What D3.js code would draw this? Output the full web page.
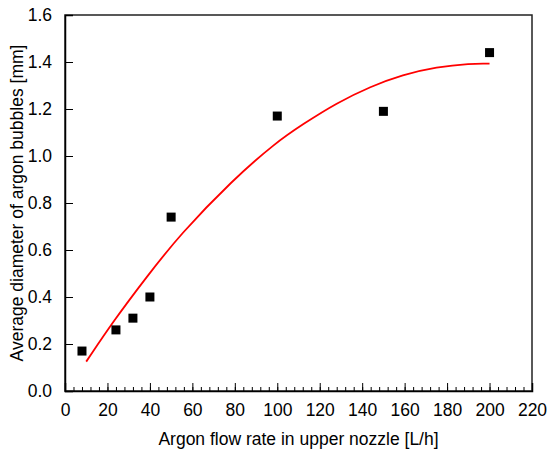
<!DOCTYPE html>
<html lang="en">
<head>
    <meta charset="UTF-8">
    <title>Argon bubble diameter</title>
    <script src="https://d3js.org/d3.v7.min.js"></script>
    <style>
        body {
            margin: 0;
            background: #fff;
            font-family: "Liberation Sans", Arial, sans-serif;
        }
        .tick text {
            font-size: 17.5px;
            fill: #000;
        }
        .axis-title {
            font-size: 17.5px;
            fill: #000;
        }
    </style>
</head>
<body>
    <svg id="chart" width="550" height="455"></svg>

    <script>
        // measured points
        const flowRates = [8, 24, 32, 40, 50, 100, 150, 200];
        const diameters = [0.17, 0.26, 0.31, 0.40, 0.74, 1.17, 1.19, 1.44];

        // red fit curve
        const fitX = [10, 23, 38.5, 54, 79, 99, 112, 128, 144, 159, 175, 191, 200];
        const fitY = [0.125, 0.30, 0.486, 0.664, 0.898, 1.055, 1.135, 1.226, 1.296, 1.346, 1.379, 1.394, 1.393];

        const xTicks = [0, 20, 40, 60, 80, 100, 120, 140, 160, 180, 200, 220];
        const yTicks = [0.0, 0.2, 0.4, 0.6, 0.8, 1.0, 1.2, 1.4, 1.6];

        const margin = { top: 15, right: 18, bottom: 64, left: 65 };
        const svg = d3.select("#chart");
        const width = +svg.attr("width") - margin.left - margin.right;
        const height = +svg.attr("height") - margin.top - margin.bottom;

        const x = d3.scaleLinear().domain([0, 220]).range([0, width]);
        const y = d3.scaleLinear().domain([0, 1.6]).range([height, 0]);

        const g = svg.append("g")
            .attr("transform", `translate(${margin.left},${margin.top})`);

        // frame
        g.append("rect")
            .attr("width", width)
            .attr("height", height)
            .attr("fill", "none")
            .attr("stroke", "#222")
            .attr("stroke-width", 1.5);

        // minor x ticks every 4
        g.append("g")
            .attr("transform", `translate(0,${height})`)
            .call(d3.axisBottom(x).tickValues(d3.range(0, 221, 4)).tickSize(-4).tickFormat(""))
            .call(a => a.select(".domain").remove())
            .call(a => a.selectAll("line").attr("stroke", "#000"));

        const xAxis = g.append("g")
            .attr("transform", `translate(0,${height})`)
            .call(d3.axisBottom(x).tickValues(xTicks).tickSize(-8).tickPadding(13).tickFormat(d3.format("d")))
            .call(a => a.select(".domain").attr("stroke", "#000").attr("stroke-width", 1.5));
        xAxis.selectAll("line").attr("stroke", "#000");

        const yAxis = g.append("g")
            .call(d3.axisLeft(y).tickValues(yTicks).tickSize(-8).tickPadding(13).tickFormat(d3.format(".1f")))
            .call(a => a.select(".domain").attr("stroke", "#000").attr("stroke-width", 1.5));
        yAxis.selectAll("line").attr("stroke", "#000");
        svg.selectAll(".tick text").attr("font-family", null)
            .style("font-family", "'Liberation Sans', Arial, sans-serif");

        // fit curve
        const fit = fitX.map((v, i) => [v, fitY[i]]);
        g.append("path")
            .datum(fit)
            .attr("fill", "none")
            .attr("stroke", "#f00")
            .attr("stroke-width", 1.8)
            .attr("d", d3.line()
                .x(d => x(d[0]))
                .y(d => y(d[1]))
                .curve(d3.curveBasis));

        // data markers
        const pts = flowRates.map((v, i) => [v, diameters[i]]);
        g.selectAll(".pt")
            .data(pts)
            .enter()
            .append("rect")
            .attr("class", "pt")
            .attr("x", d => x(d[0]) - 4.5)
            .attr("y", d => y(d[1]) - 4.5)
            .attr("width", 9)
            .attr("height", 9)
            .attr("fill", "#000");

        // axis titles
        svg.append("text")
            .attr("class", "axis-title")
            .attr("x", margin.left + width / 2)
            .attr("y", 445)
            .attr("text-anchor", "middle")
            .text("Argon flow rate in upper nozzle [L/h]");

        svg.append("text")
            .attr("class", "axis-title")
            .attr("transform", `translate(23,${margin.top + height / 2}) rotate(-90)`)
            .attr("text-anchor", "middle")
            .text("Average diameter of argon bubbles [mm]");
    </script>
</body>
</html>
